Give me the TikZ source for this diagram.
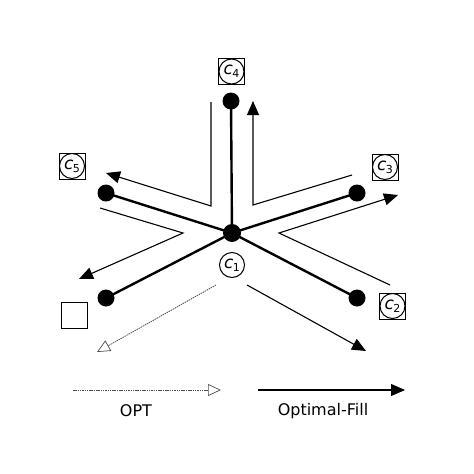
\documentclass[tikz,border=0pt]{standalone}
\usepackage{fontspec}
\setmainfont{DejaVu Sans}
\usetikzlibrary{arrows.meta}
\newcommand{\clab}[1]{{\fontsize{17}{17}\selectfont\itshape c}\kern-0.5pt\raisebox{-3pt}{\fontsize{11}{11}\selectfont #1}}
\begin{document}
\begin{tikzpicture}[x=1pt,y=-1pt,
  dot/.style={circle,fill=black,inner sep=0pt,minimum size=17pt},
  hubdot/.style={circle,fill=black,inner sep=0pt,minimum size=18pt},
  spoke/.style={line width=2.4pt},
  lbl/.style={circle,draw,line width=1pt,inner sep=0pt,minimum size=25pt},
  boxed/.style={draw,line width=1pt,inner sep=0pt,minimum size=26pt},
  fillarrow/.style={line width=1.1pt,-{Triangle[length=14pt,width=12pt]}},
  optarrow/.style={line width=0.8pt,gray!60!black,dash pattern=on 1.5pt off 0.8pt,-{Triangle[open,length=13pt,width=12pt,line width=0.7pt]}},
  leg/.style={font=\fontsize{16}{16}\selectfont}]
\useasboundingbox (0,0) rectangle (474,474);
% hub and ends
\node[hubdot] (h) at (232,233) {};
\node[dot] (d4) at (231,101) {};
\node[dot] (d3) at (357,193) {};
\node[dot] (d2) at (357,298) {};
\node[dot] (d5) at (106,193) {};
\node[dot] (d1) at (106,298) {};
\foreach \d in {d1,d2,d3,d4,d5} \draw[spoke] (h.center) -- (\d.center);
% labels
\node[boxed] (b4) at (231.5,71.5) {};
\node[lbl] (l4) at (b4) {\clab{4}};
\node[boxed] (b3) at (385,167) {};
\node[lbl] (l3) at (b3) {\clab{3}};
\node[boxed] (b2) at (392.5,306) {};
\node[lbl] (l2) at (b2) {\clab{2}};
\node[boxed] (b5) at (72,166) {};
\node[lbl] (l5) at (b5) {\clab{5}};
\node[boxed] (b1) at (74.5,315.5) {};
\node[lbl] (l1) at (232,265) {\clab{1}};
% arrows
\coordinate (a1s) at (352,175); \coordinate (a1m) at (253,205); \coordinate (a1e) at (253,101);
\draw[fillarrow] (a1s) -- (a1m) -- (a1e);
\coordinate (a2s) at (211,102); \coordinate (a2m) at (211,206); \coordinate (a2e) at (106,173);
\draw[fillarrow] (a2s) -- (a2m) -- (a2e);
\coordinate (a3s) at (390,285); \coordinate (a3m) at (279,233); \coordinate (a3e) at (398,195);
\draw[fillarrow] (a3s) -- (a3m) -- (a3e);
\coordinate (a4s) at (100,208); \coordinate (a4m) at (183,233); \coordinate (a4e) at (79,279);
\draw[fillarrow] (a4s) -- (a4m) -- (a4e);
\coordinate (a5s) at (247,285); \coordinate (a5e) at (366,351);
\draw[fillarrow] (a5s) -- (a5e);
\coordinate (a6s) at (216,285); \coordinate (a6e) at (97,352);
\draw[optarrow] (a6s) -- (a6e);
% legend
\coordinate (g1s) at (73,390); \coordinate (g1e) at (221,390);
\draw[optarrow] (g1s) -- (g1e);
\coordinate (g2s) at (258,390); \coordinate (g2e) at (405,390);
\draw[fillarrow] (g2s) -- (g2e);
\node[leg] (t1) at (136,411) {OPT};
\node[leg] (t2) at (323,411) {Optimal-Fill};
\end{tikzpicture}
\end{document}
